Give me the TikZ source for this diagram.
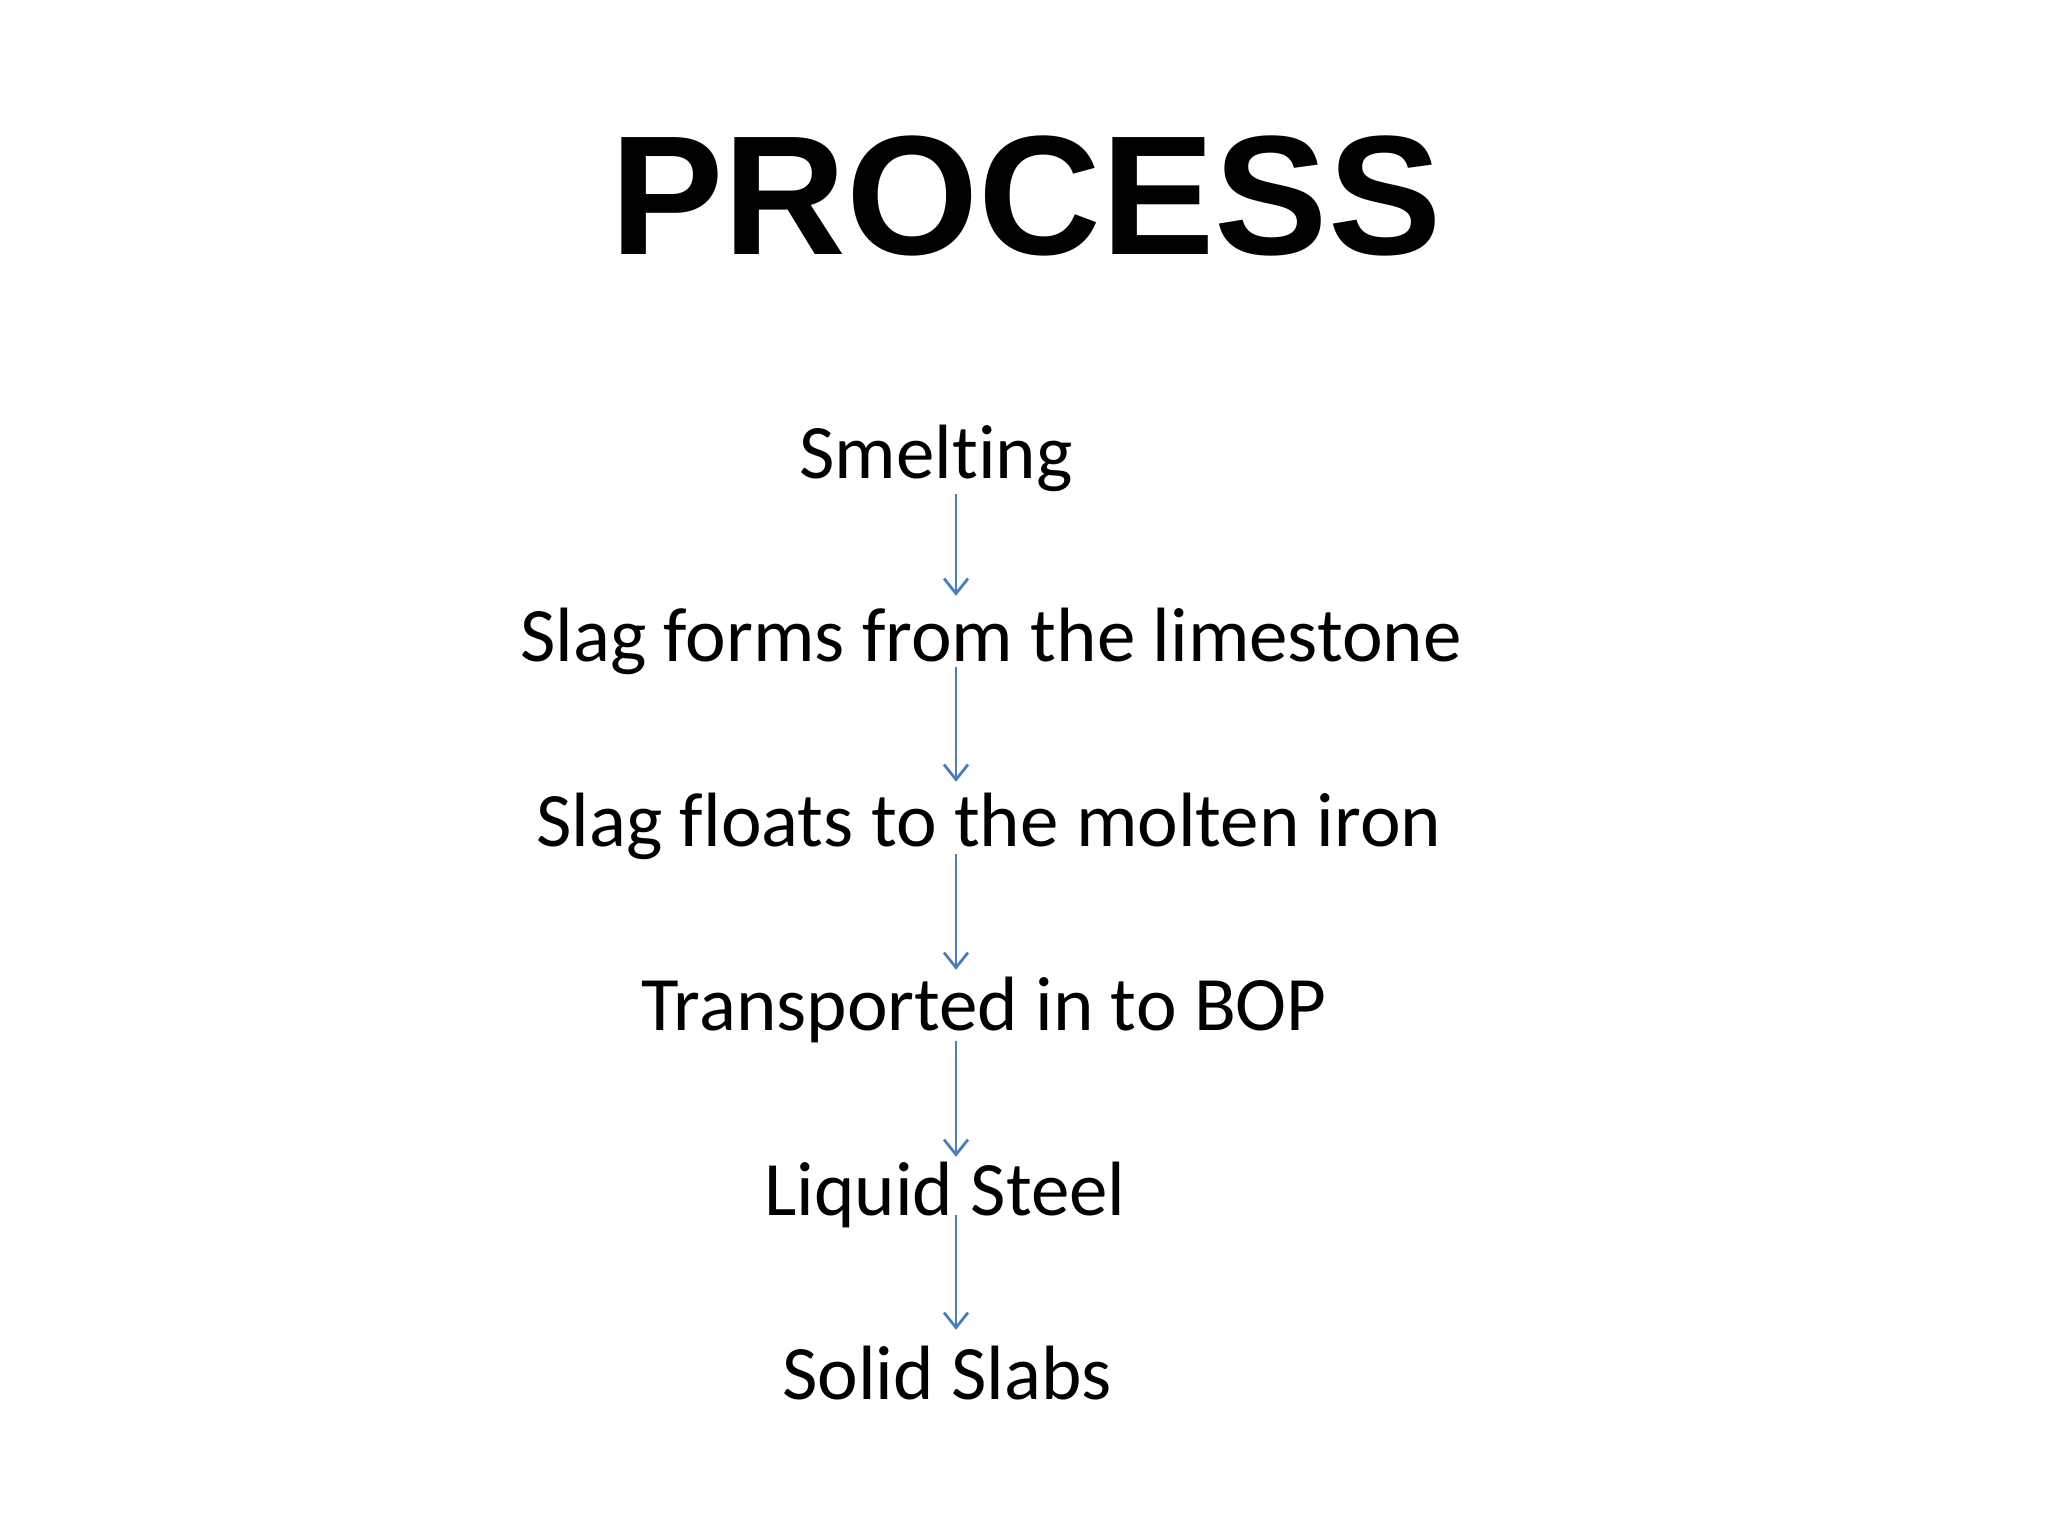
\documentclass[tikz,border=0pt]{standalone}
\usepackage{fontspec}
\setmainfont{Carlito}[Ligatures=NoCommon]
\newfontfamily\titlefont{Liberation Sans}
\usetikzlibrary{arrows.meta}
\definecolor{flowblue}{HTML}{4A7EBB}
\tikzset{
  steptext/.style={anchor=base, inner sep=0pt, text height=51pt, text depth=0pt,
    font=\fontsize{77}{90}\selectfont, text=black},
  titletext/.style={anchor=base, inner sep=0pt, font=\titlefont\bfseries\fontsize{170}{200}\selectfont},
  flow/.style={draw=flowblue, line width=2.8pt, -{Straight Barb[length=15pt,width=24pt,line width=2.8pt]}}
}
\begin{document}
\begin{tikzpicture}[x=1pt,y=-1pt]
\useasboundingbox (0,0) rectangle (2048,1536);
\fill[white] (0,0) rectangle (2048,1536);
\node[titletext] (title) at (1026,254) {PROCESS};
\node[steptext] (s1) at (936,478) {Smelting};
\node[steptext] (s2) at (991,661) {Slag forms from the limestone};
\node[steptext] (s3) at (989,846) {Slag floats to the molten iron};
\node[steptext] (s4) at (984,1030) {Transported in to BOP};
\node[steptext] (s5) at (945,1215) {Liquid Steel};
\node[steptext] (s6) at (947,1399) {Solid Slabs};
\coordinate (axis) at (956,0);
\draw[flow] ([yshift=-16pt]s1.south -| axis) -- ([yshift=14pt]s2.north -| axis);
\draw[flow] ([yshift=-6pt]s2.south -| axis) -- ([yshift=13pt]s3.north -| axis);
\draw[flow] ([yshift=-8pt]s3.south -| axis) -- ([yshift=9pt]s4.north -| axis);
\draw[flow] ([yshift=-11pt]s4.south -| axis) -- ([yshift=7pt]s5.north -| axis);
\draw[flow] ([yshift=0pt]s5.south -| axis) -- ([yshift=18pt]s6.north -| axis);
\end{tikzpicture}
\end{document}
